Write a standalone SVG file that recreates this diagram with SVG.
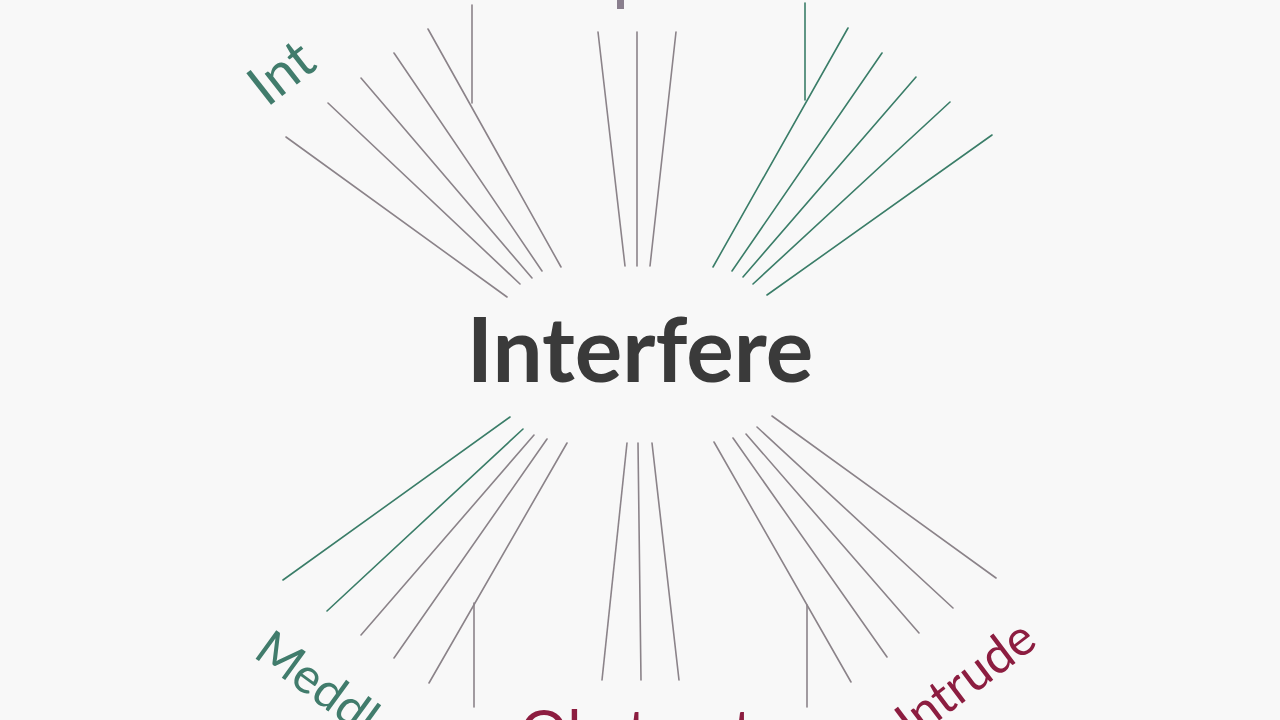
<svg xmlns="http://www.w3.org/2000/svg" width="1280" height="720" viewBox="0 0 1280 720">
  <style>
    .bg { fill: #f8f8f8; }
    .grey { stroke: #8b8389; stroke-width: 1.6; fill: none; stroke-linecap: round; }
    .green { stroke: #3a7d68; stroke-width: 1.6; fill: none; stroke-linecap: round; }
    .center { font-family: Lato, "Liberation Sans", sans-serif; font-weight: 700; font-size: 89px; fill: #3a3a3a; }
    .label { font-family: Lato, "Liberation Sans", sans-serif; font-weight: 400; }
    .lg { fill: #417c6c; }
    .lr { fill: #8c1d40; }
  </style>
  <rect class="bg" x="0" y="0" width="1280" height="720"/>

  <g id="connectors">
    <line class="grey" x1="472" y1="5" x2="472" y2="103"/>
    <line class="grey" x1="428" y1="29" x2="561" y2="267"/>
    <line class="grey" x1="394" y1="53" x2="542" y2="271"/>
    <line class="grey" x1="361" y1="78" x2="532" y2="278"/>
    <line class="grey" x1="328" y1="103" x2="520" y2="284"/>
    <line class="grey" x1="286" y1="137" x2="507" y2="297"/>
    <line class="grey" x1="598" y1="32" x2="625" y2="266"/>
    <line class="grey" x1="637" y1="32" x2="637" y2="266"/>
    <line class="grey" x1="676" y1="32" x2="650" y2="266"/>
    <line class="green" x1="805" y1="3" x2="805" y2="100"/>
    <line class="green" x1="848" y1="28" x2="713" y2="267"/>
    <line class="green" x1="882" y1="53" x2="732" y2="271"/>
    <line class="green" x1="916" y1="77" x2="743" y2="277"/>
    <line class="green" x1="950" y1="102" x2="753" y2="284"/>
    <line class="green" x1="992" y1="135" x2="767" y2="295"/>
    <line class="green" x1="510" y1="417" x2="283" y2="580"/>
    <line class="green" x1="523" y1="429" x2="327" y2="611"/>
    <line class="grey" x1="534" y1="435" x2="361" y2="635"/>
    <line class="grey" x1="547" y1="439" x2="394" y2="658"/>
    <line class="grey" x1="567" y1="443" x2="429" y2="683"/>
    <line class="grey" x1="474" y1="603" x2="474" y2="707"/>
    <line class="grey" x1="627" y1="443" x2="602" y2="680"/>
    <line class="grey" x1="638" y1="443" x2="641" y2="680"/>
    <line class="grey" x1="652" y1="443" x2="679" y2="680"/>
    <line class="grey" x1="714" y1="442" x2="851" y2="682"/>
    <line class="grey" x1="733" y1="438" x2="887" y2="657"/>
    <line class="grey" x1="746" y1="434" x2="919" y2="633"/>
    <line class="grey" x1="757" y1="427" x2="953" y2="608"/>
    <line class="grey" x1="772" y1="416" x2="996" y2="578"/>
    <line class="grey" x1="807" y1="605" x2="807" y2="707"/>
  </g>

  <g id="node-center">
    <text class="center" x="640" y="382" text-anchor="middle">Interfere</text>
  </g>

  <g id="node-top">
    <rect x="617" y="0" width="7" height="9" fill="#8a7f8e"/>
  </g>

  <g id="node-int">
    <text class="label lg" font-size="56" transform="translate(267,108) rotate(-38)">Int</text>
  </g>

  <g id="node-meddl">
    <text class="label lg" font-size="49" transform="translate(252,656) rotate(36)">Meddl</text>
  </g>

  <g id="node-obstruct">
    <text class="label lr" font-size="60" x="520" y="753">Obstruct</text>
  </g>

  <g id="node-intrude">
    <text class="label lr" font-size="50" transform="translate(912,741) rotate(-37)">Intrude</text>
  </g>
</svg>
